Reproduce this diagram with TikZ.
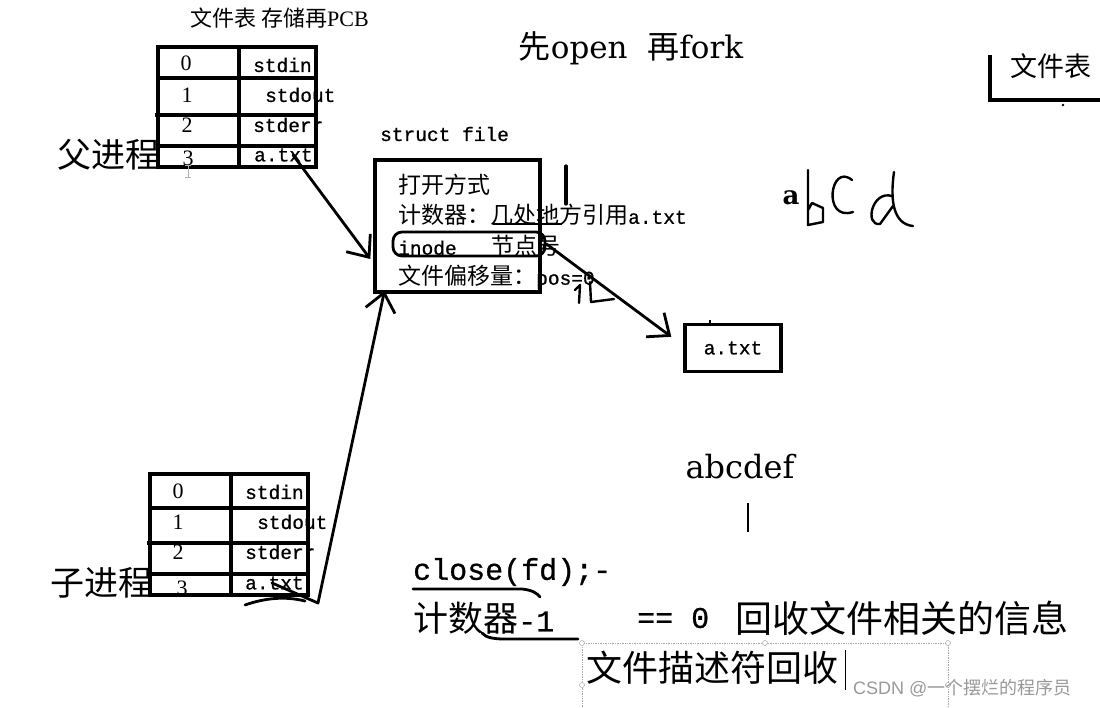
\documentclass[tikz,border=0pt]{standalone}
\usepackage{fontspec}
\setmainfont{Liberation Serif}
\setmonofont[FakeBold=0.8]{Liberation Mono}
\newfontfamily\cjk{Noto Sans CJK SC}
\newfontfamily\dvs{DejaVu Serif}
\newfontfamily\wmfont{Liberation Sans}
\usetikzlibrary{arrows.meta}
\newcommand\zh[1]{{\cjk #1}}
\begin{document}
\begin{tikzpicture}[x=1pt,y=-1pt,
  lbl/.style={inner sep=0pt, anchor=west},
  num/.style={inner sep=0pt, font=\fontsize{22}{24}\selectfont},
  mono/.style={inner sep=0pt, anchor=west, font=\ttfamily\fontsize{19.5}{22}\selectfont},
  zhtxt/.style={inner sep=0pt, anchor=west, font=\cjk\fontsize{23}{26}\selectfont},
  grid/.style={line width=3.4pt},
  hand/.style={line width=2.8pt, line cap=round, line join=round},
  harrow/.style={hand, -{Straight Barb[length=18pt,width=30pt]}},
  pen/.style={line width=2.4pt, line cap=round, line join=round}
]
\useasboundingbox (0,0) rectangle (1100,707);
\fill[white] (0,0) rectangle (1100,707);

% ---------- title texts ----------
\node[lbl, font=\fontsize{22}{24}\selectfont] (title1) at (190,18) {\zh{文件表\ 存储再}PCB};
\node[inner sep=0pt, font=\dvs\fontsize{31}{34}\selectfont] (title2) at (631,48) {{\cjk\fontsize{32}{34}\selectfont 先}open\ \ {\cjk\fontsize{32}{34}\selectfont 再}fork};

% top right corner
\draw[grid] (990,55) -- (990,100) -- (1100,100);
\node[lbl, font=\cjk\fontsize{27}{30}\selectfont] (ftab) at (1010,66) {文件表};
\fill (1063,105) circle (1.3);

% ---------- parent file table ----------
\draw[grid] (158,47) rectangle (316,167);
\draw[grid] (239,47) -- (239,167);
\draw[grid] (158,78) -- (316,78);
\draw[grid] (155,115) -- (316,115);
\draw[grid] (158,146) -- (316,146);
\node[num] (p0) at (186,63) {0};
\node[num] (p1) at (187,95) {1};
\node[num] (p2) at (187,125) {2};
\node[num] (p3) at (188,158) {3};
\node[mono] (ps0) at (253,65) {stdin};
\node[mono] (ps1) at (265,95) {stdout};
\node[mono] (ps2) at (253,125) {stderr};
\node[mono] (ps3) at (254,155) {a.txt};
\draw[gray!60, line width=0.8pt] (185,165) -- (191,165) (188,165) -- (188,177) (185,177) -- (191,177);
\node[lbl, font=\cjk\fontsize{34}{36}\selectfont] (parent) at (57,155) {父进程};

% ---------- struct file ----------
\node[mono] (sflabel) at (380,134) {struct file};
\node[draw, line width=3.4pt, minimum width=165pt, minimum height=132pt, inner sep=0pt] (sf) at (457.5,226) {};
\node[zhtxt] (l1) at (398,185) {打开方式};
\node[zhtxt] (l2) at (398,215) {计数器：几处地方引用{\ttfamily\fontsize{19.5}{22}\selectfont a.txt}};
\node[zhtxt] (l3) at (398,246) {{\ttfamily\fontsize{19.5}{22}\selectfont inode\ \ \ }节点号};
\node[zhtxt] (l4) at (398,277) {文件偏移量：{\ttfamily\fontsize{19.5}{22}\selectfont pos=0}};
\node[draw, line width=2.8pt, rounded corners=9pt, minimum width=152pt, minimum height=24pt, inner sep=0pt] (inode) at (469,244) {};
\draw[line width=1.5pt] (493,224) -- (562,224);
\draw[line width=3.2pt, line cap=round] (566,166) -- (566,204);

% ---------- a.txt box ----------
\node[draw, line width=3.4pt, minimum width=96pt, minimum height=47pt, inner sep=0pt,
      font=\ttfamily\fontsize{19.5}{22}\selectfont] (afile) at (733,348) {a.txt};
\draw[line width=1.5pt] (710,325) -- (710,320);

% ---------- connectors ----------
\coordinate (a1s) at (293,155);
\coordinate (a1e) at ([xshift=-3pt,yshift=-33pt]sf.west);
\draw[harrow] (a1s) -- (a1e);
\draw[harrow] (inode.east) -- ([xshift=-12pt,yshift=-14pt]afile.north west);

% handwriting "11" near pos=0
\draw[pen] (575,290) -- (580,285) -- (579,303);
\draw[pen] (590,282) -- (591,302) -- (614,299);

% ---------- abCd ----------
\node[inner sep=0pt, font=\dvs\bfseries\fontsize{26}{30}\selectfont] (aletter) at (791,198) {a};
\draw[pen] (808,170) -- (808,225) -- (823,222) -- (823,208) -- (812,203) -- (808,210);
\draw[pen] (852,180) .. controls (830,162) and (822,222) .. (853,212);
\draw[pen] (894,172) .. controls (890,200) and (893,224) .. (913,226);
\draw[pen] (892,196) .. controls (872,190) and (864,226) .. (880,224) -- (893,206);

% ---------- abcdef ----------
\node[inner sep=0pt, font=\dvs\fontsize{32}{34}\selectfont] (abcdef) at (740,467) {abcdef};
\draw[line width=2.8pt] (748,503) -- (748,532);

% ---------- child file table ----------
\draw[grid] (150,474) rectangle (308,595);
\draw[grid] (231,474) -- (231,595);
\draw[grid] (150,508) -- (308,508);
\draw[grid] (147,543) -- (308,543);
\draw[grid] (150,574) -- (308,574);
\node[num] (c0) at (178,491) {0};
\node[num] (c1) at (178,522) {1};
\node[num] (c2) at (178,552) {2};
\node[num] (c3) at (182,588) {3};
\node[mono] (cs0) at (245,492) {stdin};
\node[mono] (cs1) at (257,522) {stdout};
\node[mono] (cs2) at (245,552) {stderr};
\node[mono] (cs3) at (245,583) {a.txt};
\node[lbl, font=\cjk\fontsize{34}{36}\selectfont] (child) at (50,583) {子进程};

\coordinate (c3a) at (272,583);
\coordinate (c3b) at (318,603);
\draw[harrow] (c3a) -- (c3b) -- ([xshift=-73pt,yshift=3pt]sf.south);
\draw[hand] (245,605) .. controls (265,598) and (285,596) .. (305,601);

% ---------- bottom notes ----------
\node[lbl, font=\ttfamily\fontsize{30}{32}\selectfont] (close) at (413,572) {close(fd);-};
\draw[hand] (413,589) -- (522,589) .. controls (532,590) and (537,593) .. (540,597);
\node[lbl, font=\cjk\fontsize{35}{38}\selectfont] (cnt) at (413,618) {计数器{\ttfamily\fontsize{30}{32}\selectfont -1}};
\draw[hand] (482,633) .. controls (486,638) and (495,639) .. (505,639) -- (578,639);
\node[lbl, font=\ttfamily\fontsize{30}{32}\selectfont] (eq) at (637,618) {== 0};
\node[lbl, font=\cjk\fontsize{37}{40}\selectfont] (recl) at (735,618) {回收文件相关的信息};

\draw[densely dotted, gray!70, line width=0.7pt] (582,707) -- (582,643) -- (948,643) -- (948,707);
\foreach \p in {(582,643),(765,643),(948,643),(582,685),(948,685)}
  \draw[gray!70, fill=white, line width=0.5pt] \p circle (2.5);
\node[lbl, font=\cjk\fontsize{36}{38}\selectfont] (fdrec) at (586,668) {文件描述符回收};
\draw[line width=0.8pt] (845,650) -- (845,690);

\node[lbl, text=gray!80, font=\wmfont\fontsize{18}{20}\selectfont] (wm) at (853,688) {CSDN @\zh{一个摆烂的程序员}};
\end{tikzpicture}
\end{document}
